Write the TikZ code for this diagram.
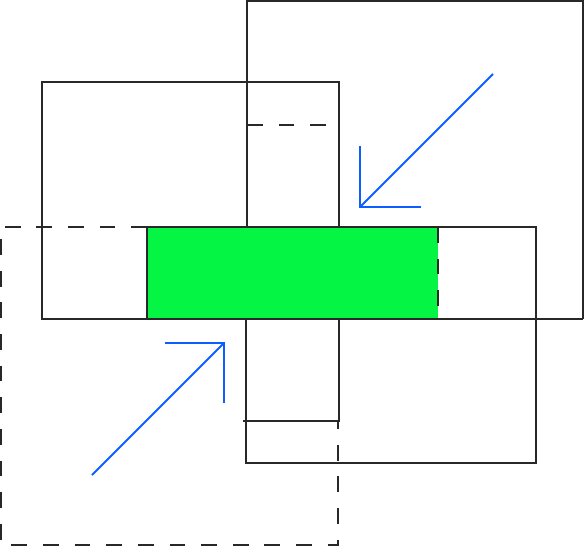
\documentclass[tikz,border=0pt]{standalone}
\usepackage{tikz}
\usetikzlibrary{calc}
\definecolor{edge}{RGB}{40, 40, 40}
\definecolor{overlap}{RGB}{5, 245, 69}
\definecolor{move}{RGB}{12, 94, 255}
\tikzset{
  cut/.style={dash pattern=on 9pt off 9pt},
  shift arrow/.style={color=move, line width=1.1pt}
}

\begin{document}
\begin{tikzpicture}[x=0.02cm, y=-0.02cm, line width=1.1pt, color=edge]
  \useasboundingbox (0, 0) rectangle (584, 547);

  \fill[color=overlap] (147, 227) rectangle (438, 319);

  % top right square
  \draw (247, 227) -- (247, 1) -- (583, 1) -- (583, 319);
  % left rectangle
  \draw (339, 227) -- (339, 82) -- (42, 82) -- (42, 319) -- (583, 319);
  \draw [cut] (247, 125) -- (339, 125);

  % moved rectangle
  \draw (147, 319) -- (147, 227) -- (536, 227) -- (536, 463) -- (246, 463) -- (246, 319);
  \draw [cut] (438, 227) -- (438, 319);
  \draw (339, 319) -- (339, 421) -- (243, 421);

  % dashed square
  \draw [cut] (147, 227) -- (1, 227) -- (1, 545) -- (338, 545) -- (338, 421);

  % arrows
  \coordinate (ta) at (493, 74);
  \coordinate (tb) at (360, 207);
  \coordinate (ba) at (92, 475);
  \coordinate (bb) at (224, 343);
  \draw [shift arrow] (ta) -- (tb);
  \draw [shift arrow] ($(tb) + (0, -61)$) -- (tb) -- +(61, 0);
  \draw [shift arrow] (ba) -- (bb);
  \draw [shift arrow] ($(bb) + (-59, 0)$) -- (bb) -- +(0, 60);
\end{tikzpicture}
\end{document}
